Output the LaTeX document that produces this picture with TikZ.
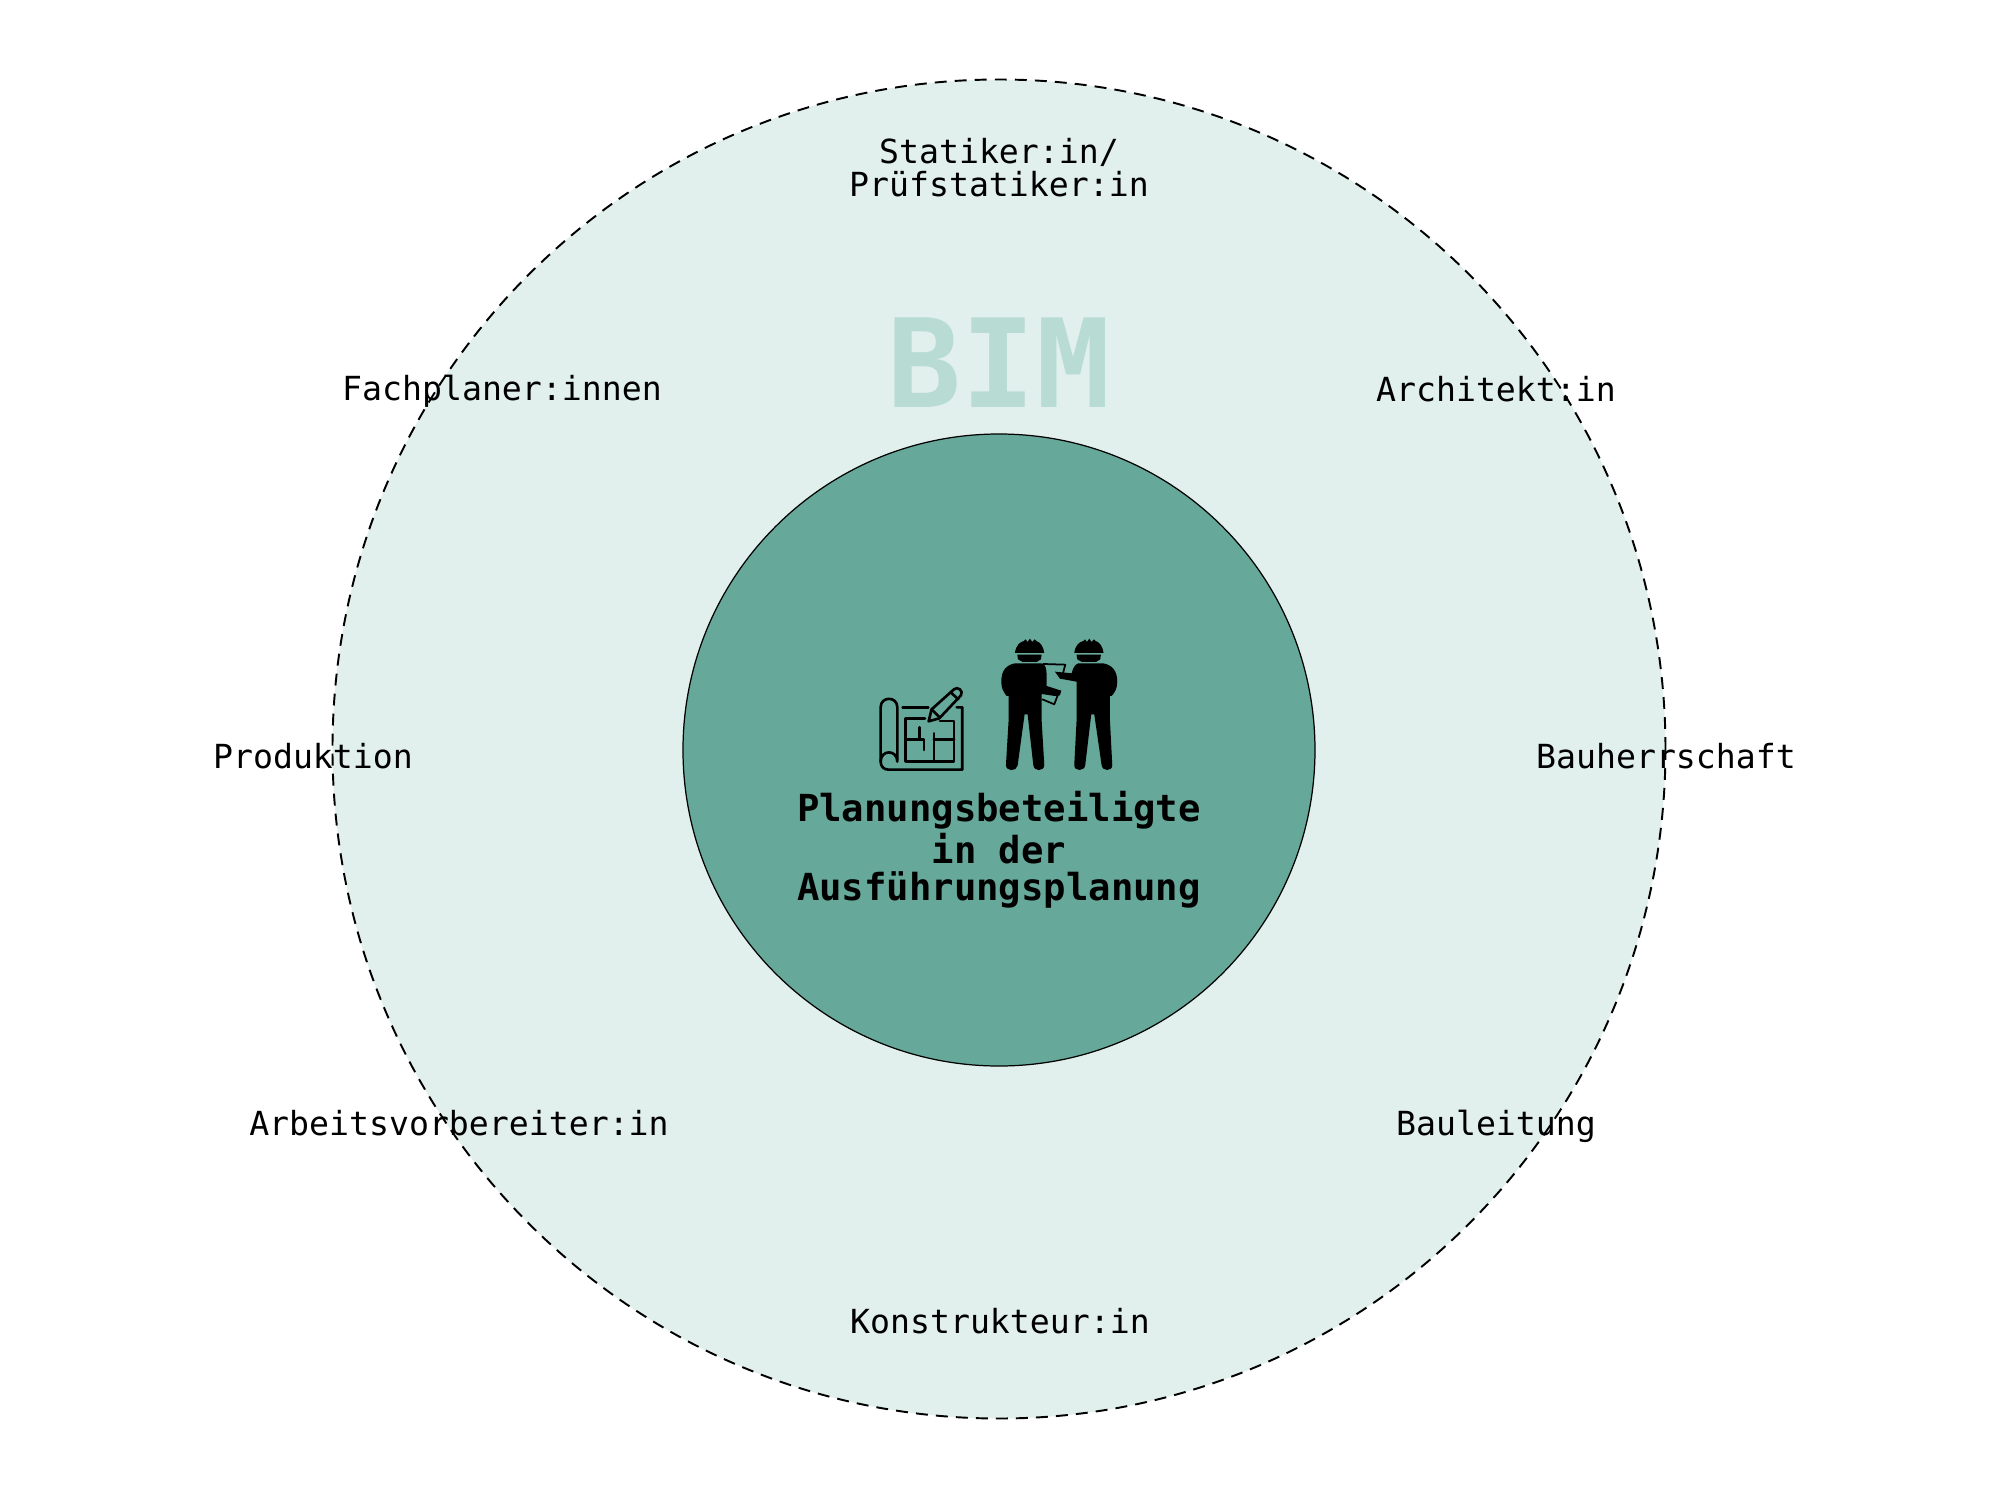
\documentclass[tikz,border=0pt]{standalone}
\usepackage{fontspec}
\usetikzlibrary{shapes.geometric}
\setmonofont{DejaVu Sans Mono}
\definecolor{ringfill}{HTML}{E1F0EC}
\definecolor{corefill}{HTML}{66A899}
\definecolor{bimtext}{HTML}{B8DBD4}
\begin{document}
\begin{tikzpicture}
\tikzset{
  ring/.style={ellipse,inner sep=0pt,minimum width=13.33cm,minimum height=13.39cm,fill=ringfill,draw=black,line width=.55pt,dash pattern=on 3.4pt off 2.3pt},
  core/.style={circle,inner sep=0pt,minimum size=6.32cm,fill=corefill,draw=black,line width=.35pt},
  role/.style={align=center,inner sep=0pt,font=\ttfamily\fontsize{9.44}{9.4}\selectfont},
  title/.style={align=center,inner sep=0pt,font=\ttfamily\bfseries\fontsize{10.6}{10.67}\selectfont},
  bim/.style={inner sep=0pt,text=bimtext,font=\ttfamily\bfseries\fontsize{35}{36}\selectfont},
  plan line/.style={line width=.75pt,line cap=round,line join=round},
  helmet/.pic={
    \fill (465,99) .. controls (468,75) and (480,66) .. (492,63) -- (497,58) -- (503,66) -- (510,56) -- (517,66) -- (524,58) -- (529,63) .. controls (541,67) and (550,78) .. (553,99) -- cycle;
    \fill (472,104) -- (545,104) -- (543,118) -- (530,126) -- (488,126) -- (474,118) -- cycle;
  },
}
\useasboundingbox (-9.99,-7.5) rectangle (10.01,7.5);
\node[ring] (outer) at (0,.01) {};
\node[core] (inner) at (0,0) {};
\node[bim] (bimlabel) at (0,3.87) {BIM};
\node[title] (centrelabel) at (0,-1.0) {Planungsbeteiligte\\in der\\Ausführungsplanung};
\foreach \rolename/\x/\y/\roletext in {
  statik/0/5.82/{Statiker:in/\\Prüfstatiker:in},
  architekt/4.97/3.61/{Architekt:in},
  bauherr/6.67/-.065/{Bauherrschaft},
  leitung/4.97/-3.76/{Bauleitung},
  konstrukteur/.01/-5.715/{Konstrukteur:in},
  avor/-5.4/-3.735/{Arbeitsvorbereiter:in},
  produktion/-6.86/-.065/{Produktion},
  fachplaner/-4.97/3.585/{Fachplaner:innen}}
  \node[role] (\rolename) at (\x,\y) {\roletext};
% workers
\begin{scope}[shift={(-1.39cm,1.3cm)},x=.03333mm,y=-.03333mm]
  \pic at (0,0) {helmet};
  \pic at (178,0) {helmet};
  \fill (465,130) -- (545,130) .. controls (556,132) and (560,145) .. (560,165) -- (560,198) -- (604,212) -- (600,226) -- (585,228) -- (545,222) -- (545,300) -- (553,435) .. controls (553,455) and (522,456) .. (520,435) -- (503,283) -- (494,283) -- (473,437) .. controls (470,456) and (437,454) .. (438,435) -- (446,300) -- (446,228) -- (440,228) .. controls (430,215) and (424,205) .. (424,185) .. controls (424,150) and (440,135) .. (465,130) -- cycle;
  \draw[plan line,line width=.5pt] (550,132) -- (616,134) -- (606,172) (547,238) -- (583,253) -- (594,224);
  \fill (655,130) -- (730,130) .. controls (755,135) and (772,150) .. (772,185) .. controls (772,205) and (765,218) .. (755,228) -- (750,228) -- (750,300) -- (757,435) .. controls (758,455) and (727,455) .. (725,435) -- (703,283) -- (694,283) -- (676,435) .. controls (674,455) and (642,455) .. (643,435) -- (650,300) -- (650,185) -- (600,176) -- (585,155) -- (635,160) .. controls (640,142) and (645,134) .. (655,130) -- cycle;
\end{scope}
% blueprint
\begin{scope}[shift={(-1.39cm,1.3cm)},x=.03333mm,y=-.03333mm]
  \draw[plan line] (112,420) -- (112,262) .. controls (112,228) and (62,228) .. (62,262) -- (62,425) .. controls (62,440) and (72,449) .. (85,449) -- (307,449) -- (307,262) -- (290,262);
  \draw[plan line] (62,425) .. controls (62,388) and (112,388) .. (112,425);
  \draw[plan line] (128,262) -- (205,262);
  \draw[plan line] (240,303) -- (282,303) -- (282,424) -- (137,424) -- (137,296) -- (195,296);
  \draw[plan line] (140,358) -- (178,358) -- (178,322) (178,358) -- (192,358) -- (192,390) (222,358) -- (282,358) (222,340) -- (222,424);
  \draw[plan line] (206,304) -- (215,268) -- (282,208) .. controls (292,198) and (312,212) .. (303,226) -- (238,295) -- cycle;
  \draw[plan line] (215,268) -- (240,293) (272,217) -- (295,238);
\end{scope}
\end{tikzpicture}
\end{document}
